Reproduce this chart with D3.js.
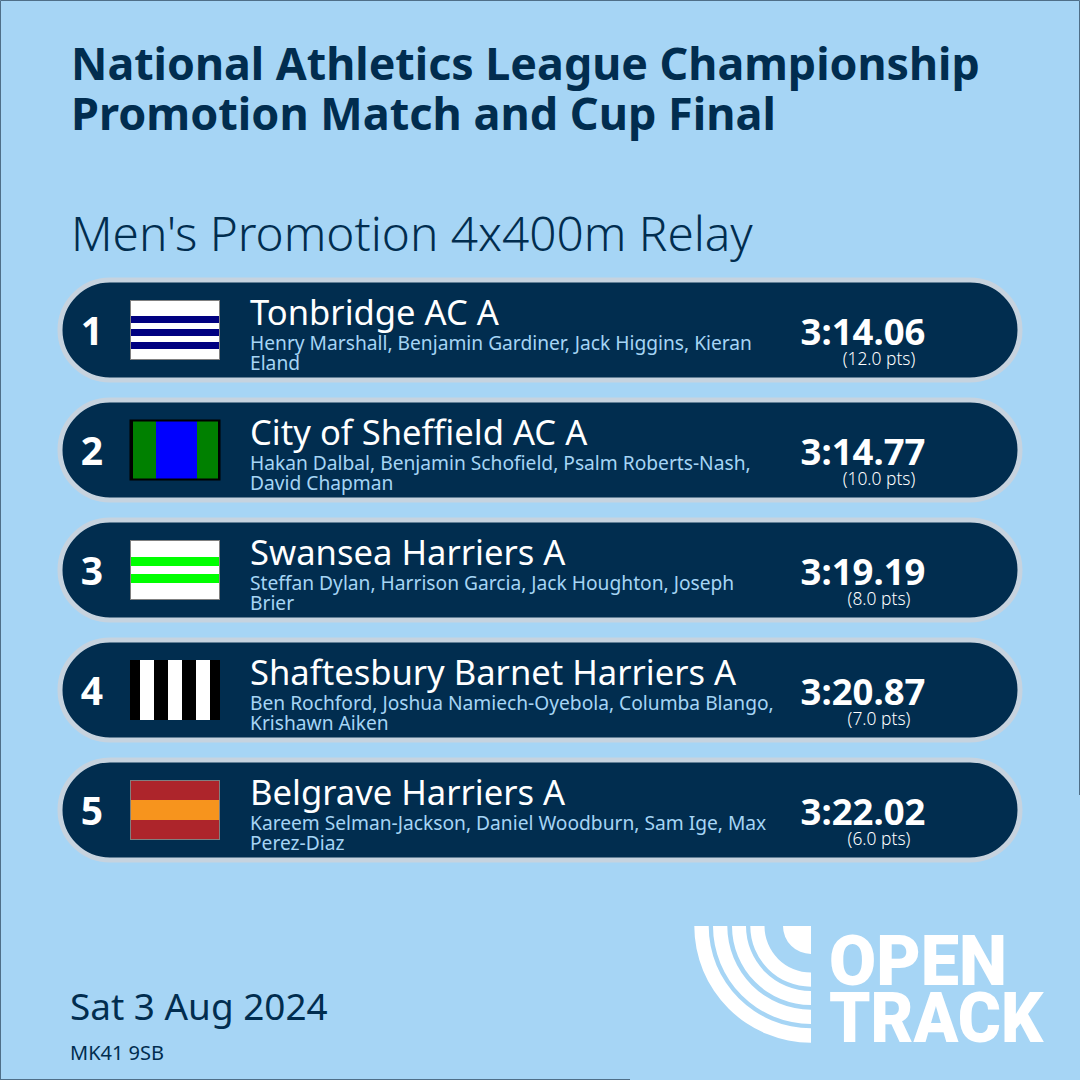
<!DOCTYPE html>
<html>
<head>
<meta charset="utf-8">
<script src="https://cdn.jsdelivr.net/npm/d3@7"></script>
<style>
  html, body { margin: 0; padding: 0; background: #a6d5f5; }
  svg { display: block; }
  text { font-family: "Noto Sans", Lato, sans-serif; }
</style>
</head>
<body>
<div id="chart"></div>
<script>
// results
const ranks = [1, 2, 3, 4, 5];
const teams = ["Tonbridge AC A", "City of Sheffield AC A", "Swansea Harriers A", "Shaftesbury Barnet Harriers A", "Belgrave Harriers A"];
const athleteLine1 = [
  "Henry Marshall, Benjamin Gardiner, Jack Higgins, Kieran",
  "Hakan Dalbal, Benjamin Schofield, Psalm Roberts-Nash,",
  "Steffan Dylan, Harrison Garcia, Jack Houghton, Joseph",
  "Ben Rochford, Joshua Namiech-Oyebola, Columba Blango,",
  "Kareem Selman-Jackson, Daniel Woodburn, Sam Ige, Max"
];
const athleteLine2 = ["Eland", "David Chapman", "Brier", "Krishawn Aiken", "Perez-Diaz"];
const times = ["3:14.06", "3:14.77", "3:19.19", "3:20.87", "3:22.02"];
const points = [12, 10, 8, 7, 6];

// club vests, stripe shares across a 60 x 90 flag
const flagDirection = ["h", "v", "h", "v", "h"];
const flagShares = [
  [16, 7, 6, 7, 6, 7, 11],
  [3, 23, 41, 21, 2],
  [17, 9, 8, 9, 17],
  [10, 14, 14, 14, 14, 14, 10],
  [20, 20, 20]
];
const flagColours = [
  ["#ffffff", "#000080", "#ffffff", "#000080", "#ffffff", "#000080", "#ffffff"],
  ["#000000", "#008000", "#0000ff", "#008000", "#000000"],
  ["#ffffff", "#00ff00", "#ffffff", "#00ff00", "#ffffff"],
  ["#000000", "#ffffff", "#000000", "#ffffff", "#000000", "#ffffff", "#000000"],
  ["#ad252b", "#f7941d", "#ad252b"]
];
const flagOutline = ["#808080", "#000000", "#808080", "none", "#808080"];

// logo ring radii (inner, outer)
const logoRings = [[0, 0], [46.5, 60.7], [65, 79], [83.7, 98], [102.3, 116.7]];

const width = 1080;
const height = 1080;
const navy = "#012d4f";
const sky = "#a6d5f5";

const svg = d3.select("#chart").append("svg")
  .attr("width", width)
  .attr("height", height);

svg.append("rect")
  .attr("width", width)
  .attr("height", height)
  .attr("fill", sky);

// thin edge left over around the page
svg.append("path")
  .attr("d", "M0.5,1080 V0.5 H1079.5 V795 M0,1079.5 H630")
  .attr("fill", "none")
  .attr("stroke", "#4f6f88");

// headings
const addText = (txt, x, y, size, weight, fill, anchor) => svg.append("text")
  .attr("x", x).attr("y", y)
  .attr("font-size", size)
  .attr("font-weight", weight)
  .attr("fill", fill)
  .attr("text-anchor", anchor || "start")
  .text(txt);

addText("National Athletics League Championship", 71, 80, 44.75, 700, navy);
addText("Promotion Match and Cup Final", 71, 130, 45, 700, navy);
addText("Men's Promotion 4x400m Relay", 71, 251, 47.7, 300, navy);
addText("Sat 3 Aug 2024", 70, 1020, 36.9, 400, navy);
addText("MK41 9SB", 70, 1060, 20, 400, navy);

// rows
const y = d3.scalePoint().domain(ranks).range([330, 810]);

const rows = svg.selectAll(".row")
  .data(ranks)
  .enter().append("g")
  .attr("class", "row")
  .attr("transform", d => `translate(0, ${y(d)})`);

rows.append("rect")
  .attr("x", 60)
  .attr("y", -50)
  .attr("width", 960)
  .attr("height", 100)
  .attr("rx", 50)
  .attr("fill", navy)
  .attr("stroke", "#c6d3df")
  .attr("stroke-width", 5);

rows.append("text")
  .attr("x", 92).attr("y", 15)
  .attr("text-anchor", "middle")
  .attr("font-size", 39)
  .attr("font-weight", 700)
  .attr("fill", "#fff")
  .text(d => d);

rows.append("text")
  .attr("x", 250).attr("y", -5)
  .attr("font-size", 34.6)
  .attr("fill", "#fff")
  .text((d, i) => teams[i]);

rows.append("text")
  .attr("x", 250).attr("y", 20)
  .attr("font-size", 19.2)
  .attr("fill", sky)
  .text((d, i) => athleteLine1[i]);

rows.append("text")
  .attr("x", 250).attr("y", 40)
  .attr("font-size", 19.2)
  .attr("fill", sky)
  .text((d, i) => athleteLine2[i]);

rows.append("text")
  .attr("x", 863).attr("y", 15)
  .attr("text-anchor", "middle")
  .attr("font-size", 36.5)
  .attr("font-weight", 700)
  .attr("fill", "#fff")
  .text((d, i) => times[i]);

rows.append("text")
  .attr("x", 879).attr("y", 35)
  .attr("text-anchor", "middle")
  .attr("font-size", 17.4)
  .attr("font-weight", 300)
  .attr("fill", "#fff")
  .text((d, i) => `(${points[i].toFixed(1)} pts)`);

// flags
rows.each(function (d, i) {
  const g = d3.select(this).append("g").attr("transform", "translate(130, -30)");
  const horizontal = flagDirection[i] === "h";
  const length = horizontal ? 60 : 90;
  const scale = d3.scaleLinear().domain([0, d3.sum(flagShares[i])]).range([0, length]);
  const starts = d3.cumsum([0].concat(flagShares[i]));

  g.selectAll("rect")
    .data(flagShares[i])
    .enter().append("rect")
    .attr("x", (s, j) => horizontal ? 0 : scale(starts[j]))
    .attr("y", (s, j) => horizontal ? scale(starts[j]) : 0)
    .attr("width", s => horizontal ? 90 : scale(s))
    .attr("height", s => horizontal ? scale(s) : 60)
    .attr("fill", (s, j) => flagColours[i][j]);

  g.append("rect")
    .attr("x", 0.5).attr("y", 0.5)
    .attr("width", 89).attr("height", 59)
    .attr("fill", "none")
    .attr("stroke", flagOutline[i])
    .attr("stroke-width", i === 1 ? 2 : 1);
});

// logo
const logo = svg.append("g").attr("transform", "translate(811, 926)");
const arc = d3.arc().startAngle(Math.PI).endAngle(Math.PI * 1.5);

logo.selectAll("path")
  .data(logoRings)
  .enter().append("path")
  .attr("d", (d, i) => i === 0
    ? "M-28,0 A28,28 0 0 0 0,28 L0,0 Z"
    : arc({ innerRadius: d[0], outerRadius: d[1] }))
  .attr("fill", "#fff");

const logoWord = (txt, x, base, len) => svg.append("text")
  .attr("x", x).attr("y", base)
  .attr("textLength", len)
  .attr("lengthAdjust", "spacingAndGlyphs")
  .attr("font-size", 71)
  .attr("font-weight", 900)
  .attr("fill", "#fff")
  .style("font-family", "Roboto, sans-serif")
  .text(txt);

logoWord("OPEN", 829, 985, 178);
logoWord("TRACK", 829, 1042, 214);
</script>
</body>
</html>
